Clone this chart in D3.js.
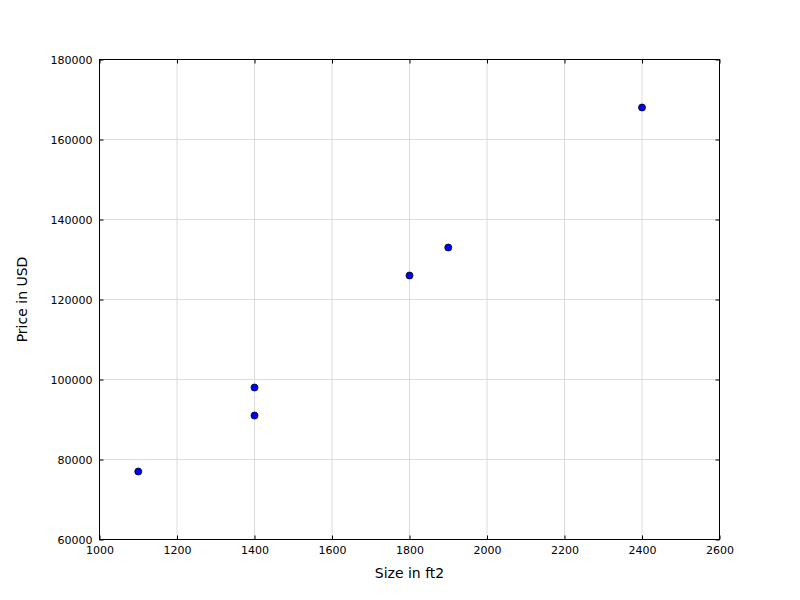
<!DOCTYPE html>
<html>
<head>
<meta charset="utf-8">
<script src="https://cdn.jsdelivr.net/npm/d3@7"></script>
<style>
  body { margin: 0; background: #fff; }
  svg { display: block; }
</style>
</head>
<body>
<script>
const sizes  = [1100, 1400, 1400, 1800, 1900, 2400];
const prices = [77000, 98000, 91000, 126000, 133000, 168000];
const xTicks = [1000, 1200, 1400, 1600, 1800, 2000, 2200, 2400, 2600];
const yTicks = [60000, 80000, 100000, 120000, 140000, 160000, 180000];

const data = sizes.map((s, i) => ({ size: s, price: prices[i] }));

const W = 800, H = 600;
const margin = { top: 59.5, right: 80.5, bottom: 60.5, left: 99.5 };
const width = W - margin.left - margin.right,
      height = H - margin.top - margin.bottom;

const svg = d3.select("body").append("svg")
    .attr("width", W)
    .attr("height", H)
    .style("font-family", "DejaVu Sans");

const chart = svg.append("g")
    .attr("transform", "translate(" + margin.left + "," + margin.top + ")");

const x = d3.scaleLinear().domain([1000, 2600]).range([0, width]);
const y = d3.scaleLinear().domain([60000, 180000]).range([height, 0]);

// grid
chart.append("g")
    .selectAll("line")
    .data(xTicks)
    .enter().append("line")
    .attr("x1", d => x(d)).attr("x2", d => x(d))
    .attr("y1", 0).attr("y2", height)
    .attr("stroke", "#dcdcdc");
chart.append("g")
    .selectAll("line")
    .data(yTicks)
    .enter().append("line")
    .attr("y1", d => y(d)).attr("y2", d => y(d))
    .attr("x1", 0).attr("x2", width)
    .attr("stroke", "#dcdcdc");

// axes, ticks pointing inward on all four sides
function styleAxis(g) {
    g.select(".domain").remove();
    g.selectAll(".tick line").attr("stroke", "#000");
    g.selectAll("text").attr("font-size", "11px").attr("fill", "#000")
        .attr("font-family", "DejaVu Sans");
}

chart.append("g")
    .attr("transform", "translate(0," + height + ")")
    .call(d3.axisBottom(x).tickValues(xTicks).tickFormat(d3.format("d"))
        .tickSizeInner(-4).tickPadding(7))
    .call(styleAxis);
chart.append("g")
    .call(d3.axisTop(x).tickValues(xTicks).tickFormat("").tickSizeInner(-4))
    .call(styleAxis);
chart.append("g")
    .call(d3.axisLeft(y).tickValues(yTicks).tickFormat(d3.format("d"))
        .tickSizeInner(-4).tickPadding(7))
    .call(styleAxis);
chart.append("g")
    .attr("transform", "translate(" + width + ",0)")
    .call(d3.axisRight(y).tickValues(yTicks).tickFormat("").tickSizeInner(-4))
    .call(styleAxis);

// frame
chart.append("rect")
    .attr("width", width)
    .attr("height", height)
    .attr("fill", "none")
    .attr("stroke", "#000")
    .attr("stroke-width", 1);

// points
chart.selectAll(".dot")
    .data(data)
    .enter().append("circle")
    .attr("class", "dot")
    .attr("cx", d => x(d.size))
    .attr("cy", d => y(d.price))
    .attr("r", 3.5)
    .attr("fill", "#0000ff")
    .attr("stroke", "#000")
    .attr("stroke-width", 0.8);

// axis labels
svg.append("text")
    .attr("x", margin.left + width / 2)
    .attr("y", 578)
    .attr("text-anchor", "middle")
    .attr("font-size", "14px")
    .text("Size in ft2");
svg.append("text")
    .attr("transform", "translate(27," + (margin.top + height / 2) + ") rotate(-90)")
    .attr("text-anchor", "middle")
    .attr("font-size", "14px")
    .text("Price in USD");
</script>
</body>
</html>
